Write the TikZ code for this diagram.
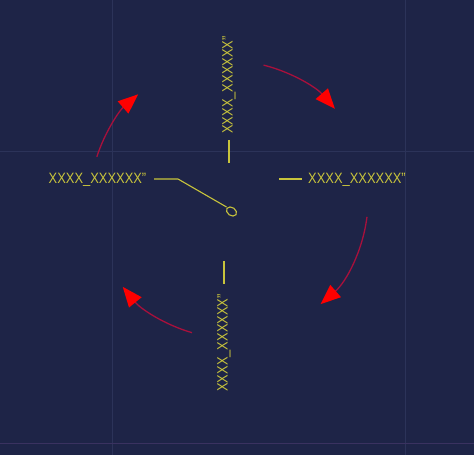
\documentclass[tikz,border=0pt]{standalone}
\usepackage{fontspec}
\setmainfont{Liberation Sans}
\newfontfamily\narrowf[FakeStretch=0.86]{Liberation Sans}
\usetikzlibrary{arrows.meta,calc,shapes.geometric}
\definecolor{bg}{HTML}{1E2447}
\definecolor{gridc}{HTML}{2C3359}
\definecolor{gridp}{HTML}{3A3260}
\definecolor{ylw}{HTML}{C8C43C}
\definecolor{arrline}{HTML}{A8103C}
\tikzset{
  lbl/.style={text=ylw, font=\narrowf\fontsize{15}{15}\selectfont, inner sep=0pt},
  lead/.style={draw=ylw, line width=1.1pt},
  rot/.style={draw=arrline, line width=1.3pt, -{Triangle[length=20pt,width=16pt,fill=red,color=red]}},
  gridline/.style={draw=gridc, line width=0.6pt}
}
\begin{document}
\begin{tikzpicture}[x=1pt,y=1pt]
\fill[bg] (0,0) rectangle (474,455);
\useasboundingbox (0,0) rectangle (474,455);
% faint grid
\draw[gridline] (112,0) -- (112,455);
\draw[gridline] (405,0) -- (405,455);
\draw[gridline] (0,304) -- (474,304);
\draw[draw=gridp, line width=0.8pt] (0,12) -- (474,12);
% labels
\node[lbl] (L) at (97.5,275) {XXXX\_XXXXXX”};
\node[lbl] (R) at (357,275) {XXXX\_XXXXXX”};
\node[lbl, rotate=90] (T) at (229,370) {XXXX\_XXXXXX”};
\node[lbl, rotate=90] (B) at (224,112) {XXXX\_XXXXXX”};
% leaders
\coordinate (t1) at (229,315); \coordinate (t2) at (229,292);
\coordinate (r1) at (279,276); \coordinate (r2) at (302,276);
\coordinate (b1) at (224,194); \coordinate (b2) at (224,171);
\coordinate (l1) at (154,276); \coordinate (l2) at (178,276); \coordinate (l3) at (226.5,248);
\draw[lead] (t1) -- (t2);
\draw[lead] (r1) -- (r2);
\draw[lead] (b1) -- (b2);
\draw[lead] (l1) -- (l2) -- (l3);
\node[draw=ylw, line width=1.1pt, ellipse, minimum width=11pt, minimum height=8pt, inner sep=0pt, rotate=-35] (E) at (231.5,243.5) {};
% rotation arrows
\coordinate (O) at (230,255);
\coordinate (a1) at ($(O)+(162:140)$);
\coordinate (a2) at ($(O)+(76:139)$);
\coordinate (a3) at ($(O)+(-7:138)$);
\coordinate (a4) at ($(O)+(254:138)$);
\draw[rot] (a1) arc[start angle=162, end angle=131, radius=140];
\draw[rot] (a2) arc[start angle=76, end angle=41, radius=139];
\draw[rot] (a3) arc[start angle=-7, end angle=-49, radius=138];
\draw[rot] (a4) arc[start angle=254, end angle=219, radius=138];
\end{tikzpicture}
\end{document}
